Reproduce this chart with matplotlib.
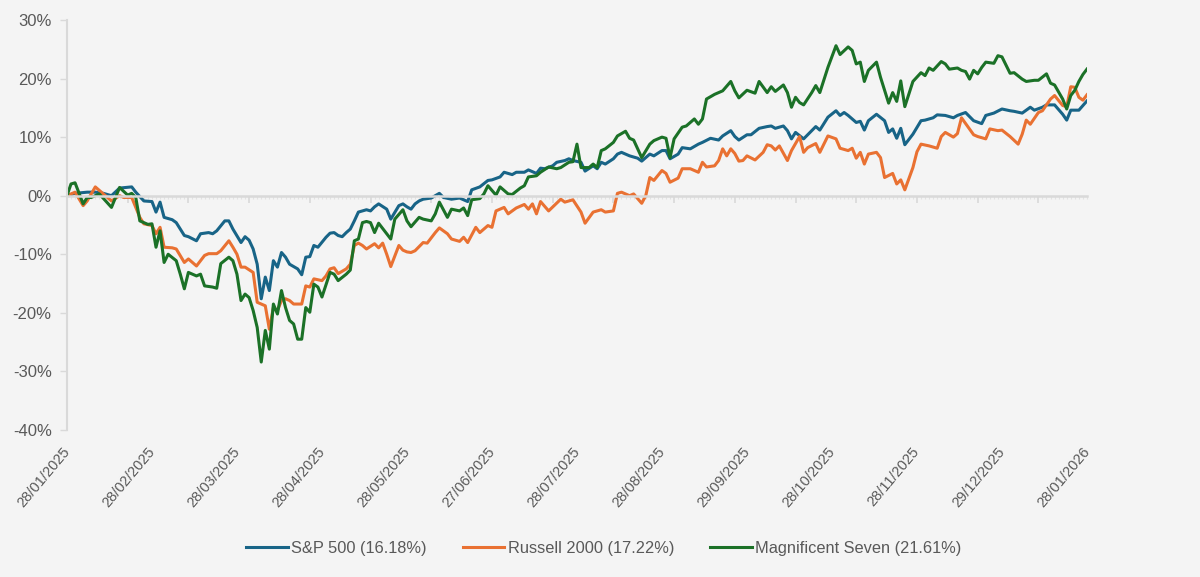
import numpy as np
import matplotlib.pyplot as plt
from matplotlib.ticker import MultipleLocator, FuncFormatter

# cumulative return (%), keyed by trading-day index (0 = 28/01/2025)
spx = [(0, 0.0), (2, 0.4), (5, 0.6), (7, 0.6), (9, 0.4), (11, 0.0), (13, 1.3), (16, 1.5), (17, 0.6), (19, -0.9),
       (21, -1.0), (22, -2.8), (23, -1.1), (24, -3.7), (26, -4.1), (27, -4.6), (29, -6.8), (30, -7.0), (32, -7.7), (33, -6.5),
       (35, -6.3), (36, -6.5), (37, -6.0), (39, -4.3), (40, -4.3), (41, -5.7), (43, -8.0), (44, -7.0), (45, -7.6), (46, -9.1),
       (47, -11.7), (48, -17.6), (49, -13.9), (50, -16.2), (51, -11.1), (52, -12.2), (53, -9.7), (54, -10.5), (55, -11.7), (57, -12.5),
       (58, -13.5), (59, -10.5), (60, -10.4), (61, -8.5), (62, -8.8), (64, -7.1), (65, -6.4), (66, -6.3), (67, -6.8), (68, -7.0),
       (69, -6.3), (70, -5.7), (71, -4.3), (72, -2.8), (74, -2.4), (75, -2.6), (76, -1.9), (77, -1.4), (79, -2.3), (80, -4.0),
       (82, -1.7), (83, -1.4), (84, -1.9), (85, -2.3), (86, -1.4), (87, -0.9), (88, -0.6), (90, -0.4), (92, 0.4), (93, -0.3),
       (95, -0.6), (97, -0.4), (98, -0.7), (99, -1.0), (100, 1.0), (102, 1.5), (104, 2.6), (105, 2.7), (107, 3.2), (108, 4.0),
       (110, 3.6), (111, 4.0), (113, 4.0), (114, 4.4), (116, 3.8), (117, 4.7), (118, 4.6), (120, 5.1), (121, 5.7), (123, 6.0),
       (124, 6.3), (125, 6.0), (127, 5.7), (128, 4.2), (130, 5.1), (131, 4.6), (132, 5.7), (133, 5.4), (135, 6.3), (136, 7.1),
       (137, 7.4), (139, 6.8), (141, 6.4), (142, 5.9), (144, 7.1), (145, 6.8), (147, 7.7), (148, 7.7), (149, 6.3), (151, 7.1),
       (152, 8.2), (154, 8.0), (156, 8.8), (157, 9.1), (159, 9.8), (161, 9.5), (162, 10.2), (164, 11.1), (165, 10.1), (166, 9.5),
       (168, 10.4), (169, 10.4), (171, 11.5), (173, 11.8), (174, 11.9), (175, 11.5), (177, 11.9), (178, 11.1), (179, 9.7), (180, 10.8),
       (182, 9.7), (184, 11.1), (185, 11.8), (186, 11.2), (188, 13.4), (190, 14.5), (191, 13.7), (192, 14.2), (193, 13.7), (195, 12.5),
       (196, 12.7), (197, 11.2), (198, 12.8), (200, 13.9), (202, 12.8), (203, 10.8), (204, 11.4), (205, 9.8), (206, 11.5), (207, 8.7),
       (209, 10.5), (211, 12.8), (212, 12.9), (214, 13.3), (215, 13.8), (217, 13.7), (219, 13.3), (220, 13.7), (222, 14.2), (224, 12.8),
       (226, 12.3), (227, 13.7), (229, 14.1), (231, 14.8), (233, 14.5), (234, 14.4), (236, 14.1), (238, 15.1), (239, 14.6), (241, 15.1),
       (242, 15.5), (244, 15.5), (246, 13.9), (247, 12.9), (248, 14.6), (250, 14.6), (251, 15.4), (252, 16.18)]

russell = [(0, 0.0), (2, 0.6), (4, -1.7), (5, -0.9), (7, 1.5), (9, 0.3), (11, -0.9), (13, 0.0), (14, -0.3), (16, -0.3),
           (18, -3.7), (19, -4.8), (21, -5.1), (22, -6.5), (23, -5.4), (24, -8.8), (26, -8.9), (27, -9.1), (29, -11.4), (30, -10.8),
           (32, -12.0), (34, -10.2), (35, -9.9), (37, -9.9), (38, -9.4), (40, -7.7), (41, -8.8), (42, -10.0), (43, -12.2), (44, -12.2),
           (46, -13.1), (47, -18.2), (48, -18.5), (49, -18.8), (50, -22.8), (51, -19.1), (52, -19.6), (53, -17.9), (54, -17.6), (55, -17.9),
           (56, -18.5), (58, -18.5), (59, -15.4), (60, -15.6), (61, -14.2), (63, -14.5), (64, -13.7), (65, -12.5), (66, -12.3), (67, -13.3),
           (69, -12.5), (70, -11.7), (71, -8.5), (72, -8.1), (73, -8.5), (74, -9.1), (76, -8.2), (77, -8.9), (78, -8.1), (79, -10.0),
           (80, -12.1), (82, -8.5), (83, -9.3), (84, -9.6), (85, -9.7), (86, -9.4), (88, -8.0), (89, -8.1), (91, -6.3), (92, -5.5),
           (94, -6.5), (95, -7.4), (97, -7.8), (98, -7.1), (99, -8.0), (101, -5.4), (102, -6.3), (104, -5.1), (105, -5.4), (106, -2.6),
           (108, -2.0), (109, -3.1), (111, -2.1), (113, -1.5), (114, -2.3), (115, -1.4), (116, -3.1), (117, -1.0), (119, -2.6), (122, -0.6),
           (123, -1.1), (125, -0.7), (127, -2.8), (128, -4.7), (130, -2.8), (132, -2.4), (133, -2.8), (135, -2.6), (136, 0.4), (137, 0.6),
           (139, 0.0), (140, 0.3), (142, -1.3), (143, 0.0), (144, 3.1), (145, 2.6), (147, 4.3), (148, 3.8), (149, 2.3), (151, 3.0),
           (152, 4.6), (154, 4.6), (156, 4.0), (157, 5.7), (158, 4.9), (160, 5.1), (161, 6.0), (162, 8.0), (163, 6.8), (164, 8.0),
           (165, 7.2), (166, 5.9), (167, 6.0), (168, 6.8), (170, 6.1), (172, 7.4), (173, 8.7), (174, 8.5), (175, 7.8), (176, 8.5),
           (178, 6.0), (179, 7.7), (181, 10.1), (182, 7.4), (183, 8.2), (185, 8.9), (186, 7.4), (188, 10.2), (190, 9.7), (191, 8.1),
           (193, 7.7), (194, 8.1), (195, 6.4), (196, 7.4), (197, 5.4), (198, 7.1), (200, 7.4), (201, 6.5), (202, 3.1), (204, 3.8),
           (205, 2.0), (206, 2.7), (207, 1.0), (209, 4.8), (210, 7.5), (211, 8.8), (213, 8.5), (215, 8.1), (216, 10.1), (217, 10.8),
           (219, 10.0), (220, 10.6), (221, 13.3), (224, 10.4), (225, 10.1), (227, 9.7), (228, 11.4), (230, 11.1), (231, 11.2), (233, 10.1),
           (235, 8.8), (236, 10.5), (237, 12.9), (238, 12.2), (240, 14.2), (241, 14.5), (242, 15.5), (243, 16.5), (244, 17.1), (246, 15.4),
           (247, 15.2), (248, 18.6), (249, 18.5), (250, 16.8), (251, 16.3), (252, 17.22)]

mag7 = [(0, 0.0), (1, 2.0), (2, 2.2), (4, -1.4), (5, -0.3), (6, -0.3), (8, 0.3), (11, -2.0), (13, 1.4), (15, 0.1),
        (16, 0.4), (17, -0.3), (18, -4.3), (20, -4.9), (21, -4.8), (22, -8.8), (23, -6.0), (24, -11.4), (25, -10.0), (27, -11.1),
        (28, -13.4), (29, -15.9), (30, -13.1), (32, -13.7), (33, -13.4), (34, -15.4), (36, -15.6), (37, -15.8), (38, -11.6), (40, -10.5),
        (41, -11.1), (42, -13.4), (43, -17.9), (44, -16.8), (45, -17.4), (46, -19.6), (47, -22.5), (48, -28.4), (49, -23.0), (50, -26.2),
        (51, -18.5), (52, -20.2), (53, -16.2), (54, -19.1), (55, -21.3), (56, -21.9), (57, -24.5), (58, -24.5), (59, -19.1), (60, -19.9),
        (61, -15.1), (62, -15.6), (63, -17.3), (65, -13.1), (66, -13.4), (67, -14.5), (69, -13.4), (70, -12.7), (71, -7.7), (72, -7.4),
        (73, -4.6), (74, -4.4), (75, -4.6), (76, -6.3), (77, -4.7), (79, -6.5), (80, -7.4), (81, -4.0), (83, -2.4), (84, -4.3),
        (85, -5.3), (87, -3.7), (88, -4.0), (90, -4.3), (91, -3.1), (92, -1.1), (94, -3.7), (95, -2.3), (97, -2.6), (98, -2.1),
        (99, -3.4), (100, -0.7), (102, -0.5), (103, 0.3), (104, 1.7), (106, 0.1), (107, 1.5), (109, 0.3), (110, 0.2), (112, 1.3),
        (113, 1.7), (114, 3.2), (116, 3.4), (117, 4.0), (119, 4.9), (121, 4.6), (122, 4.8), (124, 5.7), (125, 5.8), (126, 8.8),
        (127, 4.8), (129, 4.8), (130, 5.4), (131, 4.8), (132, 7.7), (133, 8.0), (135, 9.1), (136, 10.2), (138, 11.0), (139, 9.8),
        (140, 9.5), (142, 6.5), (144, 8.8), (145, 9.4), (147, 10.0), (148, 9.8), (149, 6.5), (150, 9.7), (152, 11.7), (153, 11.9),
        (155, 13.1), (156, 12.2), (157, 13.1), (158, 16.5), (160, 17.3), (162, 17.9), (164, 19.5), (165, 17.9), (166, 16.7), (168, 18.0),
        (170, 17.5), (171, 19.5), (173, 17.6), (174, 18.6), (175, 17.8), (177, 18.9), (178, 17.6), (179, 15.1), (180, 16.8), (181, 15.9),
        (182, 15.5), (184, 17.6), (185, 18.8), (186, 17.6), (188, 21.9), (190, 25.6), (191, 24.1), (193, 25.4), (194, 24.8), (195, 22.5),
        (196, 22.8), (197, 19.5), (198, 21.4), (200, 22.8), (201, 20.2), (203, 15.8), (204, 17.6), (205, 16.1), (206, 19.6), (207, 15.2),
        (209, 19.5), (211, 21.0), (212, 20.5), (213, 21.8), (214, 21.4), (216, 22.9), (217, 22.5), (218, 21.6), (220, 21.8), (221, 21.4),
        (222, 21.2), (223, 19.9), (224, 21.4), (225, 20.8), (226, 21.9), (227, 22.8), (229, 22.6), (230, 23.9), (231, 23.7), (233, 20.9),
        (234, 21.0), (236, 19.9), (237, 19.5), (239, 19.7), (240, 19.7), (242, 20.8), (243, 19.2), (244, 18.9), (246, 16.5), (247, 14.8),
        (248, 17.1), (249, 18.0), (250, 19.5), (251, 20.7), (252, 21.61)]

series_names = ["S&P 500 (16.18%)", "Russell 2000 (17.22%)", "Magnificent Seven (21.61%)"]
series_colors = ["#186487", "#E97132", "#1B7127"]

# x labels sit every 21 trading days
date_labels = ["28/01/2025", "28/02/2025", "28/03/2025", "28/04/2025", "28/05/2025", "27/06/2025", "28/07/2025",
               "28/08/2025", "29/09/2025", "28/10/2025", "28/11/2025", "29/12/2025", "28/01/2026"]
label_step = 21
n_days = 252

bg = "#F4F4F4"
grey_txt = "#595959"
grey_ax = "#D9D9D9"

plt.rcParams['font.family'] = ['Liberation Sans', 'DejaVu Sans']

fig = plt.figure(figsize=(12, 5.77), dpi=100, facecolor=bg)
ax = fig.add_axes([0.0558, 0.2548, 0.85, 0.7106])
ax.set_facecolor(bg)

for data, name, col in zip([spx, russell, mag7], series_names, series_colors):
    days, vals = zip(*data)
    ax.plot(days, vals, color=col, lw=2.2, label=name, solid_joinstyle='round')

ax.set_xlim(0, n_days)
ax.set_ylim(-40, 30)
ax.set_yticks(np.arange(-40, 31, 10))
ax.yaxis.set_major_formatter(FuncFormatter(lambda v, p: f"{v:.0f}%"))

for s in ['top', 'right']:
    ax.spines[s].set_visible(False)
ax.spines['left'].set_color(grey_ax)
ax.spines['left'].set_linewidth(1.5)
ax.spines['bottom'].set_position(('data', 0))
ax.spines['bottom'].set_color(grey_ax)
ax.spines['bottom'].set_linewidth(1.8)

ax.tick_params(axis='y', length=5, width=1, color=grey_ax, labelcolor=grey_txt, labelsize=12, pad=6)
ax.set_xticks(np.arange(0, n_days + 1, 15))
ax.xaxis.set_minor_locator(MultipleLocator(1))
ax.tick_params(axis='x', which='major', length=5, width=1.2, color=grey_ax, labelbottom=False)
ax.tick_params(axis='x', which='minor', length=2, width=0.8, color="#E2E2E2")

sec = ax.secondary_xaxis('bottom')
sec.set_xticks(np.arange(0, n_days + 1, label_step), labels=date_labels,
               rotation=50, ha='right', va='center', rotation_mode='anchor')
sec.tick_params(length=0, pad=14, labelcolor=grey_txt, labelsize=10.5)
sec.spines['bottom'].set_visible(False)

fig.legend(loc='center', bbox_to_anchor=(0.503, 0.049), ncol=3, frameon=False,
           handlelength=2.55, handletextpad=0.2, columnspacing=2.2, labelcolor=grey_txt,
           prop={'family': ['Liberation Sans'], 'size': 11.8})

fig.savefig('out.png', dpi=100, facecolor=bg)
